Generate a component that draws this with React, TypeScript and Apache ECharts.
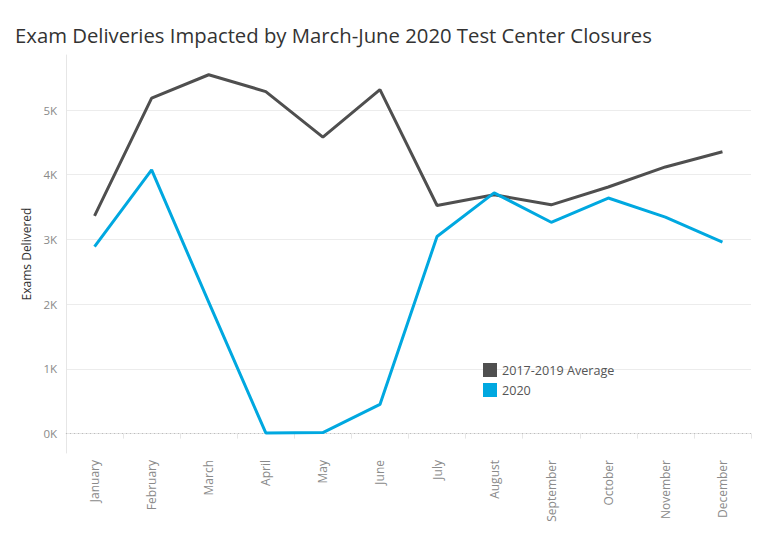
import React, { useEffect, useRef } from "react";
import * as echarts from "echarts";

const months = [
  "January", "February", "March", "April", "May", "June",
  "July", "August", "September", "October", "November", "December",
];
const average2017to2019 = [3365, 5185, 5545, 5285, 4580, 5315, 3525, 3690, 3535, 3810, 4120, 4355];
const deliveries2020 = [2890, 4075, 2030, 10, 15, 450, 3045, 3720, 3265, 3640, 3345, 2960];

const Y_MIN = -300;
const Y_MAX = 5850;
const Y_STEP = 50;
const LABEL_STEP = 1000;

const FONT = "'Open Sans', 'Noto Sans', sans-serif";

export default function App() {
  const ref = useRef<HTMLDivElement>(null);

  useEffect(() => {
    if (!ref.current) return;
    const chart = echarts.init(ref.current, undefined, { renderer: "svg" });

    // grid lines only at whole thousands above zero; zero gets a dotted line
    const splitColors: string[] = [];
    for (let v = Y_MIN; v <= Y_MAX; v += Y_STEP) {
      splitColors.push(v > 0 && v % LABEL_STEP === 0 ? "#ececec" : "rgba(0,0,0,0)");
    }

    chart.setOption({
      animation: false,
      backgroundColor: "#ffffff",
      textStyle: { fontFamily: FONT },
      title: {
        text: "Exam Deliveries Impacted by March-June 2020 Test Center Closures",
        left: 10,
        top: 20,
        textStyle: { fontFamily: FONT, fontSize: 20.3, fontWeight: "normal", color: "#333333" },
      },
      legend: {
        orient: "vertical",
        left: 478,
        top: 358,
        itemWidth: 14,
        itemHeight: 14,
        itemGap: 6,
        icon: "rect",
        textStyle: { fontFamily: FONT, fontSize: 12.6, color: "#555555" },
        data: ["2017-2019 Average", "2020"],
      },
      grid: { left: 66, right: 11, top: 55, bottom: 91 },
      xAxis: {
        type: "category",
        data: months,
        boundaryGap: true,
        axisLine: { lineStyle: { color: "#e6e6e6" } },
        axisTick: { show: true, length: 5, lineStyle: { color: "#e6e6e6" } },
        axisLabel: {
          rotate: 90,
          interval: 0,
          margin: 7,
          color: "#8a8a8a",
          fontSize: 12,
          fontFamily: FONT,
        },
      },
      yAxis: {
        type: "value",
        min: Y_MIN,
        max: Y_MAX,
        interval: Y_STEP,
        name: "Exams Delivered",
        nameLocation: "middle",
        nameGap: 29,
        nameTextStyle: { fontFamily: FONT, fontSize: 12, color: "#333333" },
        axisLine: { show: true, lineStyle: { color: "#e6e6e6" } },
        axisTick: { show: false },
        axisLabel: {
          color: "#8a8a8a",
          fontSize: 11.5,
          fontFamily: FONT,
          margin: 9,
          formatter: (v: number) => (v >= 0 && v % LABEL_STEP === 0 ? `${v / 1000}K` : ""),
        },
        splitLine: { show: true, lineStyle: { color: splitColors, width: 1 } },
      },
      series: [
        {
          name: "2017-2019 Average",
          type: "line",
          data: average2017to2019,
          symbol: "none",
          color: "#4f4f4f",
          lineStyle: { width: 3, color: "#4f4f4f" },
          z: 3,
        },
        {
          name: "2020",
          type: "line",
          data: deliveries2020,
          symbol: "none",
          color: "#00a8e0",
          lineStyle: { width: 3, color: "#00a8e0" },
          z: 4,
          markLine: {
            silent: true,
            symbol: "none",
            label: { show: false },
            lineStyle: { type: [1, 3], color: "#bdbdbd", width: 1 },
            data: [{ yAxis: 0 }],
            z: 1,
          },
        },
      ],
    });

    return () => chart.dispose();
  }, []);

  return (
    <div
      ref={ref}
      style={{ position: "fixed", left: 0, top: 0, width: 762, height: 544 }}
    />
  );
}
